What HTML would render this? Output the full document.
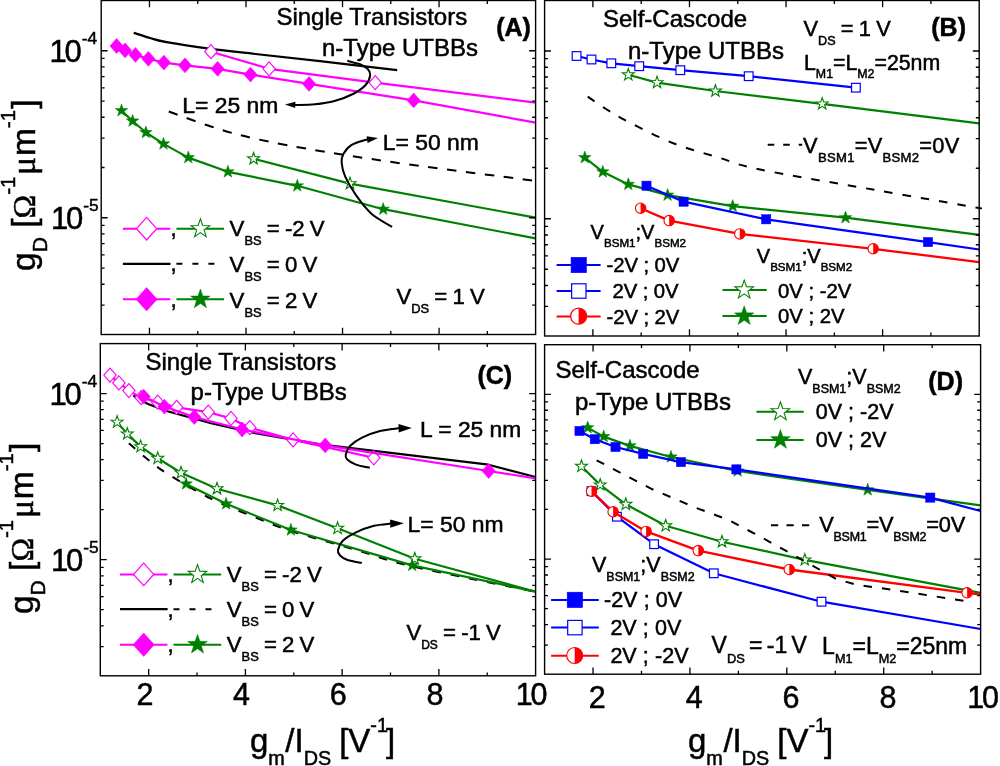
<!DOCTYPE html>
<html><head><meta charset="utf-8"><title>gD vs gm/IDS</title>
<style>html,body{margin:0;padding:0;background:#fff}svg{display:block}text{stroke:#000;stroke-width:.5px}</style>
</head><body>
<svg width="1000" height="766" viewBox="0 0 1000 766" font-family='"Liberation Sans", sans-serif' fill="#000">
<rect width="1000" height="766" fill="#fff"/>
<g id="pA">
<path d="M133.7 32.9C136.42 33.75 144.52 36.45 150 38C155.48 39.55 156.43 40.38 166.6 42.2C176.77 44.02 196.2 46.93 211 48.9C225.8 50.87 237.23 51.97 255.4 54C273.57 56.03 296.37 58.42 320 61.1C343.63 63.78 384.33 68.6 397.2 70.1" fill="none" stroke="#000" stroke-width="2.2" stroke-linejoin="round"/>
<path d="M168.8 111.5C175.83 114 196.57 121.95 211 126.5C225.43 131.05 236.12 134.53 255.4 138.8C274.68 143.07 299.27 147.57 326.7 152.1C354.13 156.63 387.08 161.45 420 166C452.92 170.55 504.93 176.9 524.2 179.4C543.47 181.9 533.7 180.73 535.6 181" fill="none" stroke="#000" stroke-width="2.0" stroke-dasharray="9.5 9.5" stroke-linejoin="round"/>
<path d="M253.6 158.7L350 183.6L535.6 217.7" fill="none" stroke="#008000" stroke-width="2.2" stroke-linejoin="round"/>
<polygon points="253.6,152.4 255.08,156.66 259.59,156.75 256,159.48 257.3,163.8 253.6,161.22 249.9,163.8 251.2,159.48 247.61,156.75 252.12,156.66" fill="#fff" stroke="#008000" stroke-width="1.1" stroke-linejoin="miter"/>
<polygon points="350,177.3 351.48,181.56 355.99,181.65 352.4,184.38 353.7,188.7 350,186.12 346.3,188.7 347.6,184.38 344.01,181.65 348.52,181.56" fill="#fff" stroke="#008000" stroke-width="1.1" stroke-linejoin="miter"/>
<path d="M121.5 110.6L132.6 121L145.9 132.5L163.5 143.9L188.3 157.6L227.9 171.8L297.3 185.8L383.2 209.2L535.6 238.4" fill="none" stroke="#008000" stroke-width="2.2" stroke-linejoin="round"/>
<polygon points="121.5,104 123.05,108.46 127.78,108.56 124.01,111.42 125.38,115.94 121.5,113.24 117.62,115.94 118.99,111.42 115.22,108.56 119.95,108.46" fill="#008000" stroke="#008000" stroke-width="0.5" stroke-linejoin="miter"/>
<polygon points="132.6,114.4 134.15,118.86 138.88,118.96 135.11,121.82 136.48,126.34 132.6,123.64 128.72,126.34 130.09,121.82 126.32,118.96 131.05,118.86" fill="#008000" stroke="#008000" stroke-width="0.5" stroke-linejoin="miter"/>
<polygon points="145.9,125.9 147.45,130.36 152.18,130.46 148.41,133.32 149.78,137.84 145.9,135.14 142.02,137.84 143.39,133.32 139.62,130.46 144.35,130.36" fill="#008000" stroke="#008000" stroke-width="0.5" stroke-linejoin="miter"/>
<polygon points="163.5,137.3 165.05,141.76 169.78,141.86 166.01,144.72 167.38,149.24 163.5,146.54 159.62,149.24 160.99,144.72 157.22,141.86 161.95,141.76" fill="#008000" stroke="#008000" stroke-width="0.5" stroke-linejoin="miter"/>
<polygon points="188.3,151 189.85,155.46 194.58,155.56 190.81,158.42 192.18,162.94 188.3,160.24 184.42,162.94 185.79,158.42 182.02,155.56 186.75,155.46" fill="#008000" stroke="#008000" stroke-width="0.5" stroke-linejoin="miter"/>
<polygon points="227.9,165.2 229.45,169.66 234.18,169.76 230.41,172.62 231.78,177.14 227.9,174.44 224.02,177.14 225.39,172.62 221.62,169.76 226.35,169.66" fill="#008000" stroke="#008000" stroke-width="0.5" stroke-linejoin="miter"/>
<polygon points="297.3,179.2 298.85,183.66 303.58,183.76 299.81,186.62 301.18,191.14 297.3,188.44 293.42,191.14 294.79,186.62 291.02,183.76 295.75,183.66" fill="#008000" stroke="#008000" stroke-width="0.5" stroke-linejoin="miter"/>
<polygon points="383.2,202.6 384.75,207.06 389.48,207.16 385.71,210.02 387.08,214.54 383.2,211.84 379.32,214.54 380.69,210.02 376.92,207.16 381.65,207.06" fill="#008000" stroke="#008000" stroke-width="0.5" stroke-linejoin="miter"/>
<path d="M211 51.7L269.1 68.8L375.2 82.6L535.6 102.6" fill="none" stroke="#ff00ff" stroke-width="2.2" stroke-linejoin="round"/>
<path d="M204.8 51.7L211 44.7L217.2 51.7L211 58.7Z" fill="#fff" stroke="#ff00ff" stroke-width="1.1"/>
<path d="M262.9 68.8L269.1 61.8L275.3 68.8L269.1 75.8Z" fill="#fff" stroke="#ff00ff" stroke-width="1.1"/>
<path d="M369 82.6L375.2 75.6L381.4 82.6L375.2 89.6Z" fill="#fff" stroke="#ff00ff" stroke-width="1.1"/>
<path d="M116.6 46L125.1 50.4L135.5 54.9L148.4 58.8L163.9 62.6L185 65.3L217.6 68.8L250.5 74.6L309.1 83.9L413.7 100.4L535.6 122.6" fill="none" stroke="#ff00ff" stroke-width="2.2" stroke-linejoin="round"/>
<path d="M110 46L116.6 38.6L123.2 46L116.6 53.4Z" fill="#ff00ff" stroke="#ff00ff" stroke-width="0.6"/>
<path d="M118.5 50.4L125.1 43L131.7 50.4L125.1 57.8Z" fill="#ff00ff" stroke="#ff00ff" stroke-width="0.6"/>
<path d="M128.9 54.9L135.5 47.5L142.1 54.9L135.5 62.3Z" fill="#ff00ff" stroke="#ff00ff" stroke-width="0.6"/>
<path d="M141.8 58.8L148.4 51.4L155 58.8L148.4 66.2Z" fill="#ff00ff" stroke="#ff00ff" stroke-width="0.6"/>
<path d="M157.3 62.6L163.9 55.2L170.5 62.6L163.9 70Z" fill="#ff00ff" stroke="#ff00ff" stroke-width="0.6"/>
<path d="M178.4 65.3L185 57.9L191.6 65.3L185 72.7Z" fill="#ff00ff" stroke="#ff00ff" stroke-width="0.6"/>
<path d="M211 68.8L217.6 61.4L224.2 68.8L217.6 76.2Z" fill="#ff00ff" stroke="#ff00ff" stroke-width="0.6"/>
<path d="M243.9 74.6L250.5 67.2L257.1 74.6L250.5 82Z" fill="#ff00ff" stroke="#ff00ff" stroke-width="0.6"/>
<path d="M302.5 83.9L309.1 76.5L315.7 83.9L309.1 91.3Z" fill="#ff00ff" stroke="#ff00ff" stroke-width="0.6"/>
<path d="M407.1 100.4L413.7 93L420.3 100.4L413.7 107.8Z" fill="#ff00ff" stroke="#ff00ff" stroke-width="0.6"/>
<path d="M347.3 60.8C349.42 61.38 356.63 62.97 360 64.3C363.37 65.63 365.8 67.05 367.5 68.8C369.2 70.55 370.45 72.18 370.2 74.8C369.95 77.42 368.7 81.38 366 84.5C363.3 87.62 359.25 90.75 354 93.5C348.75 96.25 341 99.2 334.5 101C328 102.8 321.42 103.63 315 104.3C308.58 104.97 299.63 104.91 296 105C292.37 105.09 293.69 104.87 293.23 104.85" fill="none" stroke="#000" stroke-width="2.0" stroke-linecap="butt"/>
<path d="M285 104.4L295.45 101.87L295.12 108.06Z" fill="#000"/>
<path d="M392.1 226.8C388.7 224.67 377.72 219.27 371.7 214C365.68 208.73 360.43 201.47 356 195.2C351.57 188.93 347.5 181.88 345.1 176.4C342.7 170.92 341.87 166.08 341.6 162.3C341.33 158.52 341.88 156.57 343.5 153.7C345.12 150.83 347.55 147.42 351.3 145.1C355.05 142.78 363 140.77 366 139.8C369 138.83 368.75 139.39 369.3 139.31" fill="none" stroke="#000" stroke-width="2.0" stroke-linecap="butt"/>
<path d="M378 138L367.61 142.9L366.63 136.37Z" fill="#000"/>
</g>
<g id="pB">
<path d="M587.7 96.6C590.75 98.67 599.15 104.75 606 109C612.85 113.25 617.6 116.4 628.8 122.1C640 127.8 658.4 137.35 673.2 143.2C688 149.05 703.13 152.82 717.6 157.2C732.07 161.58 733.7 164.03 760 169.5C786.3 174.97 840.25 183.82 875.4 190C910.55 196.18 953.6 203.6 970.9 206.6C988.2 209.6 977.82 207.77 979.2 208" fill="none" stroke="#000" stroke-width="2.0" stroke-dasharray="8.5 10" stroke-linejoin="round"/>
<path d="M628.3 74.8L657 82.6L715.4 91L822.2 103.9L979.2 123.4" fill="none" stroke="#008000" stroke-width="2.2" stroke-linejoin="round"/>
<polygon points="628.3,68.5 629.78,72.76 634.29,72.85 630.7,75.58 632,79.9 628.3,77.32 624.6,79.9 625.9,75.58 622.31,72.85 626.82,72.76" fill="#fff" stroke="#008000" stroke-width="1.1" stroke-linejoin="miter"/>
<polygon points="657,76.3 658.48,80.56 662.99,80.65 659.4,83.38 660.7,87.7 657,85.12 653.3,87.7 654.6,83.38 651.01,80.65 655.52,80.56" fill="#fff" stroke="#008000" stroke-width="1.1" stroke-linejoin="miter"/>
<polygon points="715.4,84.7 716.88,88.96 721.39,89.05 717.8,91.78 719.1,96.1 715.4,93.52 711.7,96.1 713,91.78 709.41,89.05 713.92,88.96" fill="#fff" stroke="#008000" stroke-width="1.1" stroke-linejoin="miter"/>
<polygon points="822.2,97.6 823.68,101.86 828.19,101.95 824.6,104.68 825.9,109 822.2,106.42 818.5,109 819.8,104.68 816.21,101.95 820.72,101.86" fill="#fff" stroke="#008000" stroke-width="1.1" stroke-linejoin="miter"/>
<path d="M576.6 56L591.5 59.5L611.3 63.3L639.2 66.2L680.3 70.2L748.7 76.2L855.9 87.7" fill="none" stroke="#0000ff" stroke-width="2.2" stroke-linejoin="round"/>
<rect x="572.25" y="51.65" width="8.7" height="8.7" fill="#fff" stroke="#0000ff" stroke-width="1.2"/>
<rect x="587.15" y="55.15" width="8.7" height="8.7" fill="#fff" stroke="#0000ff" stroke-width="1.2"/>
<rect x="606.95" y="58.95" width="8.7" height="8.7" fill="#fff" stroke="#0000ff" stroke-width="1.2"/>
<rect x="634.85" y="61.85" width="8.7" height="8.7" fill="#fff" stroke="#0000ff" stroke-width="1.2"/>
<rect x="675.95" y="65.85" width="8.7" height="8.7" fill="#fff" stroke="#0000ff" stroke-width="1.2"/>
<rect x="744.35" y="71.85" width="8.7" height="8.7" fill="#fff" stroke="#0000ff" stroke-width="1.2"/>
<rect x="851.55" y="83.35" width="8.7" height="8.7" fill="#fff" stroke="#0000ff" stroke-width="1.2"/>
<path d="M584.8 157.6L602.8 171.8L628.3 184.4L667.6 195.1L732.7 206.2L845.5 217.7L979.2 234.9" fill="none" stroke="#008000" stroke-width="2.2" stroke-linejoin="round"/>
<polygon points="584.8,151 586.35,155.46 591.08,155.56 587.31,158.42 588.68,162.94 584.8,160.24 580.92,162.94 582.29,158.42 578.52,155.56 583.25,155.46" fill="#008000" stroke="#008000" stroke-width="0.5" stroke-linejoin="miter"/>
<polygon points="602.8,165.2 604.35,169.66 609.08,169.76 605.31,172.62 606.68,177.14 602.8,174.44 598.92,177.14 600.29,172.62 596.52,169.76 601.25,169.66" fill="#008000" stroke="#008000" stroke-width="0.5" stroke-linejoin="miter"/>
<polygon points="628.3,177.8 629.85,182.26 634.58,182.36 630.81,185.22 632.18,189.74 628.3,187.04 624.42,189.74 625.79,185.22 622.02,182.36 626.75,182.26" fill="#008000" stroke="#008000" stroke-width="0.5" stroke-linejoin="miter"/>
<polygon points="667.6,188.5 669.15,192.96 673.88,193.06 670.11,195.92 671.48,200.44 667.6,197.74 663.72,200.44 665.09,195.92 661.32,193.06 666.05,192.96" fill="#008000" stroke="#008000" stroke-width="0.5" stroke-linejoin="miter"/>
<polygon points="732.7,199.6 734.25,204.06 738.98,204.16 735.21,207.02 736.58,211.54 732.7,208.84 728.82,211.54 730.19,207.02 726.42,204.16 731.15,204.06" fill="#008000" stroke="#008000" stroke-width="0.5" stroke-linejoin="miter"/>
<polygon points="845.5,211.1 847.05,215.56 851.78,215.66 848.01,218.52 849.38,223.04 845.5,220.34 841.62,223.04 842.99,218.52 839.22,215.66 843.95,215.56" fill="#008000" stroke="#008000" stroke-width="0.5" stroke-linejoin="miter"/>
<path d="M646.5 185.7L683.6 201.7L766.2 219.3L928 242.1L979.2 249.5" fill="none" stroke="#0000ff" stroke-width="2.2" stroke-linejoin="round"/>
<rect x="641.9" y="181.1" width="9.2" height="9.2" fill="#0000ff" stroke="#0000ff" stroke-width="0.5"/>
<rect x="679" y="197.1" width="9.2" height="9.2" fill="#0000ff" stroke="#0000ff" stroke-width="0.5"/>
<rect x="761.6" y="214.7" width="9.2" height="9.2" fill="#0000ff" stroke="#0000ff" stroke-width="0.5"/>
<rect x="923.4" y="237.5" width="9.2" height="9.2" fill="#0000ff" stroke="#0000ff" stroke-width="0.5"/>
<path d="M640.6 208.2L669.2 220.6L739.8 233.9L873.2 248.8L979.2 262.1" fill="none" stroke="#ff0000" stroke-width="2.3" stroke-linejoin="round"/>
<circle cx="640.6" cy="208.2" r="5.2" fill="#fff" stroke="#ff0000" stroke-width="1.1"/><path d="M640.6 203A5.2 5.2 0 0 1 640.6 213.4Z" fill="#ff0000"/>
<circle cx="669.2" cy="220.6" r="5.2" fill="#fff" stroke="#ff0000" stroke-width="1.1"/><path d="M669.2 215.4A5.2 5.2 0 0 1 669.2 225.8Z" fill="#ff0000"/>
<circle cx="739.8" cy="233.9" r="5.2" fill="#fff" stroke="#ff0000" stroke-width="1.1"/><path d="M739.8 228.7A5.2 5.2 0 0 1 739.8 239.1Z" fill="#ff0000"/>
<circle cx="873.2" cy="248.8" r="5.2" fill="#fff" stroke="#ff0000" stroke-width="1.1"/><path d="M873.2 243.6A5.2 5.2 0 0 1 873.2 254Z" fill="#ff0000"/>
</g>
<g id="pC">
<path d="M128.9 443.2C131.75 445.67 139.72 453 146 458C152.28 463 155.77 466.42 166.6 473.2C177.43 479.98 196.2 491.32 211 498.7C225.8 506.08 242.08 512.12 255.4 517.5C268.72 522.88 274.53 525.72 290.9 531C307.27 536.28 333.42 543.32 353.6 549.2C373.78 555.08 381.67 559.2 412 566.3C442.33 573.4 515 587.55 535.6 591.8" fill="none" stroke="#000" stroke-width="2.0" stroke-dasharray="8.5 10" stroke-linejoin="round"/>
<path d="M133.3 395.5L148 404L166.6 411L211 423.3L255.4 433.2L320 444.3L486.5 464.3L535.6 477" fill="none" stroke="#000" stroke-width="2.2" stroke-linejoin="round"/>
<path d="M117.1 422.1L127.3 433.9L140.6 446.6L157.7 458.3L181 472.8L217 488.7L277.6 505.4L337.6 528.3L414.8 558.8L535.6 591.7" fill="none" stroke="#008000" stroke-width="2.2" stroke-linejoin="round"/>
<polygon points="117.1,415.8 118.58,420.06 123.09,420.15 119.5,422.88 120.8,427.2 117.1,424.62 113.4,427.2 114.7,422.88 111.11,420.15 115.62,420.06" fill="#fff" stroke="#008000" stroke-width="1.1" stroke-linejoin="miter"/>
<polygon points="127.3,427.6 128.78,431.86 133.29,431.95 129.7,434.68 131,439 127.3,436.42 123.6,439 124.9,434.68 121.31,431.95 125.82,431.86" fill="#fff" stroke="#008000" stroke-width="1.1" stroke-linejoin="miter"/>
<polygon points="140.6,440.3 142.08,444.56 146.59,444.65 143,447.38 144.3,451.7 140.6,449.12 136.9,451.7 138.2,447.38 134.61,444.65 139.12,444.56" fill="#fff" stroke="#008000" stroke-width="1.1" stroke-linejoin="miter"/>
<polygon points="157.7,452 159.18,456.26 163.69,456.35 160.1,459.08 161.4,463.4 157.7,460.82 154,463.4 155.3,459.08 151.71,456.35 156.22,456.26" fill="#fff" stroke="#008000" stroke-width="1.1" stroke-linejoin="miter"/>
<polygon points="181,466.5 182.48,470.76 186.99,470.85 183.4,473.58 184.7,477.9 181,475.32 177.3,477.9 178.6,473.58 175.01,470.85 179.52,470.76" fill="#fff" stroke="#008000" stroke-width="1.1" stroke-linejoin="miter"/>
<polygon points="217,482.4 218.48,486.66 222.99,486.75 219.4,489.48 220.7,493.8 217,491.22 213.3,493.8 214.6,489.48 211.01,486.75 215.52,486.66" fill="#fff" stroke="#008000" stroke-width="1.1" stroke-linejoin="miter"/>
<polygon points="277.6,499.1 279.08,503.36 283.59,503.45 280,506.18 281.3,510.5 277.6,507.92 273.9,510.5 275.2,506.18 271.61,503.45 276.12,503.36" fill="#fff" stroke="#008000" stroke-width="1.1" stroke-linejoin="miter"/>
<polygon points="337.6,522 339.08,526.26 343.59,526.35 340,529.08 341.3,533.4 337.6,530.82 333.9,533.4 335.2,529.08 331.61,526.35 336.12,526.26" fill="#fff" stroke="#008000" stroke-width="1.1" stroke-linejoin="miter"/>
<polygon points="414.8,552.5 416.28,556.76 420.79,556.85 417.2,559.58 418.5,563.9 414.8,561.32 411.1,563.9 412.4,559.58 408.81,556.85 413.32,556.76" fill="#fff" stroke="#008000" stroke-width="1.1" stroke-linejoin="miter"/>
<path d="M186.1 483.9L226.1 503.8L290.9 530L412.2 565.4L535.6 591.7" fill="none" stroke="#008000" stroke-width="2.2" stroke-linejoin="round"/>
<polygon points="186.1,477.3 187.65,481.76 192.38,481.86 188.61,484.72 189.98,489.24 186.1,486.54 182.22,489.24 183.59,484.72 179.82,481.86 184.55,481.76" fill="#008000" stroke="#008000" stroke-width="0.5" stroke-linejoin="miter"/>
<polygon points="226.1,497.2 227.65,501.66 232.38,501.76 228.61,504.62 229.98,509.14 226.1,506.44 222.22,509.14 223.59,504.62 219.82,501.76 224.55,501.66" fill="#008000" stroke="#008000" stroke-width="0.5" stroke-linejoin="miter"/>
<polygon points="290.9,523.4 292.45,527.86 297.18,527.96 293.41,530.82 294.78,535.34 290.9,532.64 287.02,535.34 288.39,530.82 284.62,527.96 289.35,527.86" fill="#008000" stroke="#008000" stroke-width="0.5" stroke-linejoin="miter"/>
<polygon points="412.2,558.8 413.75,563.26 418.48,563.36 414.71,566.22 416.08,570.74 412.2,568.04 408.32,570.74 409.69,566.22 405.92,563.36 410.65,563.26" fill="#008000" stroke="#008000" stroke-width="0.5" stroke-linejoin="miter"/>
<path d="M110 375.1L118.9 382.9L128.9 390.6L141.1 397.7L157.7 402.2L176.6 407.3L208.3 412.2L231 418.4L249.8 427.7L293.1 439.9L373.8 457.8" fill="none" stroke="#ff00ff" stroke-width="2.2" stroke-linejoin="round"/>
<path d="M103.8 375.1L110 368.1L116.2 375.1L110 382.1Z" fill="#fff" stroke="#ff00ff" stroke-width="1.1"/>
<path d="M112.7 382.9L118.9 375.9L125.1 382.9L118.9 389.9Z" fill="#fff" stroke="#ff00ff" stroke-width="1.1"/>
<path d="M122.7 390.6L128.9 383.6L135.1 390.6L128.9 397.6Z" fill="#fff" stroke="#ff00ff" stroke-width="1.1"/>
<path d="M134.9 397.7L141.1 390.7L147.3 397.7L141.1 404.7Z" fill="#fff" stroke="#ff00ff" stroke-width="1.1"/>
<path d="M151.5 402.2L157.7 395.2L163.9 402.2L157.7 409.2Z" fill="#fff" stroke="#ff00ff" stroke-width="1.1"/>
<path d="M170.4 407.3L176.6 400.3L182.8 407.3L176.6 414.3Z" fill="#fff" stroke="#ff00ff" stroke-width="1.1"/>
<path d="M202.1 412.2L208.3 405.2L214.5 412.2L208.3 419.2Z" fill="#fff" stroke="#ff00ff" stroke-width="1.1"/>
<path d="M224.8 418.4L231 411.4L237.2 418.4L231 425.4Z" fill="#fff" stroke="#ff00ff" stroke-width="1.1"/>
<path d="M243.6 427.7L249.8 420.7L256 427.7L249.8 434.7Z" fill="#fff" stroke="#ff00ff" stroke-width="1.1"/>
<path d="M286.9 439.9L293.1 432.9L299.3 439.9L293.1 446.9Z" fill="#fff" stroke="#ff00ff" stroke-width="1.1"/>
<path d="M367.6 457.8L373.8 450.8L380 457.8L373.8 464.8Z" fill="#fff" stroke="#ff00ff" stroke-width="1.1"/>
<path d="M143.7 396.6L164.4 406.6L194.3 417L242.1 429.5L325.2 445.4L488.7 471L535.6 478.3" fill="none" stroke="#ff00ff" stroke-width="2.2" stroke-linejoin="round"/>
<path d="M137.1 396.6L143.7 389.2L150.3 396.6L143.7 404Z" fill="#ff00ff" stroke="#ff00ff" stroke-width="0.6"/>
<path d="M157.8 406.6L164.4 399.2L171 406.6L164.4 414Z" fill="#ff00ff" stroke="#ff00ff" stroke-width="0.6"/>
<path d="M187.7 417L194.3 409.6L200.9 417L194.3 424.4Z" fill="#ff00ff" stroke="#ff00ff" stroke-width="0.6"/>
<path d="M235.5 429.5L242.1 422.1L248.7 429.5L242.1 436.9Z" fill="#ff00ff" stroke="#ff00ff" stroke-width="0.6"/>
<path d="M318.6 445.4L325.2 438L331.8 445.4L325.2 452.8Z" fill="#ff00ff" stroke="#ff00ff" stroke-width="0.6"/>
<path d="M482.1 471L488.7 463.6L495.3 471L488.7 478.4Z" fill="#ff00ff" stroke="#ff00ff" stroke-width="0.6"/>
<path d="M369.8 467.8C367.5 467.27 359.8 466.03 356 464.6C352.2 463.17 348.7 460.9 347 459.2C345.3 457.5 345.3 456.6 345.8 454.4C346.3 452.2 347.3 448.8 350 446C352.7 443.2 357 440.1 362 437.6C367 435.1 374 432.55 380 431C386 429.45 394.46 428.76 398 428.3C401.54 427.84 400.7 428.24 401.24 428.23" fill="none" stroke="#000" stroke-width="2.0" stroke-linecap="butt"/>
<path d="M411.8 428L398.69 432.49L398.51 424.09Z" fill="#000"/>
<path d="M361.8 563C359.43 562.5 351.27 561.3 347.6 560C343.93 558.7 341.4 556.9 339.8 555.2C338.2 553.5 337.5 552.2 338 549.8C338.5 547.4 339.8 543.7 342.8 540.8C345.8 537.9 350.8 534.9 356 532.4C361.2 529.9 368.2 527.27 374 525.8C379.8 524.33 387.64 523.98 390.8 523.6C393.96 523.22 392.6 523.55 392.97 523.53" fill="none" stroke="#000" stroke-width="2.0" stroke-linecap="butt"/>
<path d="M404 523.2L390.33 527.82L390.08 519.42Z" fill="#000"/>
</g>
<g id="pD">
<path d="M581.5 466.3L600.2 484.9L625.8 504.3L665.7 525.8L722 541.7L804.8 559.9L980.6 592.8" fill="none" stroke="#008000" stroke-width="2.2" stroke-linejoin="round"/>
<polygon points="581.5,460 582.98,464.26 587.49,464.35 583.9,467.08 585.2,471.4 581.5,468.82 577.8,471.4 579.1,467.08 575.51,464.35 580.02,464.26" fill="#fff" stroke="#008000" stroke-width="1.1" stroke-linejoin="miter"/>
<polygon points="600.2,478.6 601.68,482.86 606.19,482.95 602.6,485.68 603.9,490 600.2,487.42 596.5,490 597.8,485.68 594.21,482.95 598.72,482.86" fill="#fff" stroke="#008000" stroke-width="1.1" stroke-linejoin="miter"/>
<polygon points="625.8,498 627.28,502.26 631.79,502.35 628.2,505.08 629.5,509.4 625.8,506.82 622.1,509.4 623.4,505.08 619.81,502.35 624.32,502.26" fill="#fff" stroke="#008000" stroke-width="1.1" stroke-linejoin="miter"/>
<polygon points="665.7,519.5 667.18,523.76 671.69,523.85 668.1,526.58 669.4,530.9 665.7,528.32 662,530.9 663.3,526.58 659.71,523.85 664.22,523.76" fill="#fff" stroke="#008000" stroke-width="1.1" stroke-linejoin="miter"/>
<polygon points="722,535.4 723.48,539.66 727.99,539.75 724.4,542.48 725.7,546.8 722,544.22 718.3,546.8 719.6,542.48 716.01,539.75 720.52,539.66" fill="#fff" stroke="#008000" stroke-width="1.1" stroke-linejoin="miter"/>
<polygon points="804.8,553.6 806.28,557.86 810.79,557.95 807.2,560.68 808.5,565 804.8,562.42 801.1,565 802.4,560.68 798.81,557.95 803.32,557.86" fill="#fff" stroke="#008000" stroke-width="1.1" stroke-linejoin="miter"/>
<path d="M591.5 491.2L616.9 516.7L654.1 544.2L713.8 573.3L821.5 601.7L980.6 629" fill="none" stroke="#0000ff" stroke-width="2.2" stroke-linejoin="round"/>
<rect x="587.15" y="486.85" width="8.7" height="8.7" fill="#fff" stroke="#0000ff" stroke-width="1.2"/>
<rect x="612.55" y="512.35" width="8.7" height="8.7" fill="#fff" stroke="#0000ff" stroke-width="1.2"/>
<rect x="649.75" y="539.85" width="8.7" height="8.7" fill="#fff" stroke="#0000ff" stroke-width="1.2"/>
<rect x="709.45" y="568.95" width="8.7" height="8.7" fill="#fff" stroke="#0000ff" stroke-width="1.2"/>
<rect x="817.15" y="597.35" width="8.7" height="8.7" fill="#fff" stroke="#0000ff" stroke-width="1.2"/>
<path d="M587.7 427.7L603.7 436.6L629.9 445.9L671 457L737.6 471L867.7 489.8L980.6 505.4" fill="none" stroke="#008000" stroke-width="2.2" stroke-linejoin="round"/>
<polygon points="587.7,421.1 589.25,425.56 593.98,425.66 590.21,428.52 591.58,433.04 587.7,430.34 583.82,433.04 585.19,428.52 581.42,425.66 586.15,425.56" fill="#008000" stroke="#008000" stroke-width="0.5" stroke-linejoin="miter"/>
<polygon points="603.7,430 605.25,434.46 609.98,434.56 606.21,437.42 607.58,441.94 603.7,439.24 599.82,441.94 601.19,437.42 597.42,434.56 602.15,434.46" fill="#008000" stroke="#008000" stroke-width="0.5" stroke-linejoin="miter"/>
<polygon points="629.9,439.3 631.45,443.76 636.18,443.86 632.41,446.72 633.78,451.24 629.9,448.54 626.02,451.24 627.39,446.72 623.62,443.86 628.35,443.76" fill="#008000" stroke="#008000" stroke-width="0.5" stroke-linejoin="miter"/>
<polygon points="671,450.4 672.55,454.86 677.28,454.96 673.51,457.82 674.88,462.34 671,459.64 667.12,462.34 668.49,457.82 664.72,454.96 669.45,454.86" fill="#008000" stroke="#008000" stroke-width="0.5" stroke-linejoin="miter"/>
<polygon points="737.6,464.4 739.15,468.86 743.88,468.96 740.11,471.82 741.48,476.34 737.6,473.64 733.72,476.34 735.09,471.82 731.32,468.96 736.05,468.86" fill="#008000" stroke="#008000" stroke-width="0.5" stroke-linejoin="miter"/>
<polygon points="867.7,483.2 869.25,487.66 873.98,487.76 870.21,490.62 871.58,495.14 867.7,492.44 863.82,495.14 865.19,490.62 861.42,487.76 866.15,487.66" fill="#008000" stroke="#008000" stroke-width="0.5" stroke-linejoin="miter"/>
<path d="M579.5 431L594.8 439.2L615.5 447L643.2 453.9L681 462.1L736.4 469.4L930.3 497.6L980.6 511" fill="none" stroke="#0000ff" stroke-width="2.2" stroke-linejoin="round"/>
<rect x="574.9" y="426.4" width="9.2" height="9.2" fill="#0000ff" stroke="#0000ff" stroke-width="0.5"/>
<rect x="590.2" y="434.6" width="9.2" height="9.2" fill="#0000ff" stroke="#0000ff" stroke-width="0.5"/>
<rect x="610.9" y="442.4" width="9.2" height="9.2" fill="#0000ff" stroke="#0000ff" stroke-width="0.5"/>
<rect x="638.6" y="449.3" width="9.2" height="9.2" fill="#0000ff" stroke="#0000ff" stroke-width="0.5"/>
<rect x="676.4" y="457.5" width="9.2" height="9.2" fill="#0000ff" stroke="#0000ff" stroke-width="0.5"/>
<rect x="731.8" y="464.8" width="9.2" height="9.2" fill="#0000ff" stroke="#0000ff" stroke-width="0.5"/>
<rect x="925.7" y="493" width="9.2" height="9.2" fill="#0000ff" stroke="#0000ff" stroke-width="0.5"/>
<path d="M591.5 491.2L613.1 511.8L646.1 531.4L698.3 550.6L789.3 569.5L967.1 592.8L980.6 594.6" fill="none" stroke="#ff0000" stroke-width="2.3" stroke-linejoin="round"/>
<circle cx="591.5" cy="491.2" r="5.2" fill="#fff" stroke="#ff0000" stroke-width="1.1"/><path d="M591.5 486A5.2 5.2 0 0 1 591.5 496.4Z" fill="#ff0000"/>
<circle cx="613.1" cy="511.8" r="5.2" fill="#fff" stroke="#ff0000" stroke-width="1.1"/><path d="M613.1 506.6A5.2 5.2 0 0 1 613.1 517Z" fill="#ff0000"/>
<circle cx="646.1" cy="531.4" r="5.2" fill="#fff" stroke="#ff0000" stroke-width="1.1"/><path d="M646.1 526.2A5.2 5.2 0 0 1 646.1 536.6Z" fill="#ff0000"/>
<circle cx="698.3" cy="550.6" r="5.2" fill="#fff" stroke="#ff0000" stroke-width="1.1"/><path d="M698.3 545.4A5.2 5.2 0 0 1 698.3 555.8Z" fill="#ff0000"/>
<circle cx="789.3" cy="569.5" r="5.2" fill="#fff" stroke="#ff0000" stroke-width="1.1"/><path d="M789.3 564.3A5.2 5.2 0 0 1 789.3 574.7Z" fill="#ff0000"/>
<circle cx="967.1" cy="592.8" r="5.2" fill="#fff" stroke="#ff0000" stroke-width="1.1"/><path d="M967.1 587.6A5.2 5.2 0 0 1 967.1 598Z" fill="#ff0000"/>
<path d="M596.6 460.3L651 488.7L695.4 507.6L728.7 520L760 536.6L804.4 561L836 578.9L856 584.6L893.2 590L968.7 601.5" fill="none" stroke="#000" stroke-width="2.0" stroke-dasharray="8.5 10" stroke-linejoin="round"/>
</g>
<rect x="101.2" y="0.5" width="434.4" height="334" fill="none" stroke="#000" stroke-width="1.4"/>
<path d="M149.47 334.5v-6.8M149.47 0.5v6.8M197.73 334.5v-3.4M197.73 0.5v3.4M246 334.5v-6.8M246 0.5v6.8M294.27 334.5v-3.4M294.27 0.5v3.4M342.53 334.5v-6.8M342.53 0.5v6.8M390.8 334.5v-3.4M390.8 0.5v3.4M439.07 334.5v-6.8M439.07 0.5v6.8M487.33 334.5v-3.4M487.33 0.5v3.4M101.2 305.09h3.4M535.6 305.09h-3.4M101.2 284.23h3.4M535.6 284.23h-3.4M101.2 268.04h3.4M535.6 268.04h-3.4M101.2 254.82h3.4M535.6 254.82h-3.4M101.2 243.64h3.4M535.6 243.64h-3.4M101.2 233.96h3.4M535.6 233.96h-3.4M101.2 225.41h3.4M535.6 225.41h-3.4M101.2 217.77h6.4M535.6 217.77h-6.4M101.2 167.5h3.4M535.6 167.5h-3.4M101.2 138.09h3.4M535.6 138.09h-3.4M101.2 117.23h3.4M535.6 117.23h-3.4M101.2 101.04h3.4M535.6 101.04h-3.4M101.2 87.82h3.4M535.6 87.82h-3.4M101.2 76.64h3.4M535.6 76.64h-3.4M101.2 66.96h3.4M535.6 66.96h-3.4M101.2 58.41h3.4M535.6 58.41h-3.4M101.2 50.77h6.4M535.6 50.77h-6.4" stroke="#000" stroke-width="1.3" fill="none"/>
<rect x="544.6" y="0.5" width="434.6" height="335.5" fill="none" stroke="#000" stroke-width="1.4"/>
<path d="M592.89 336v-6.8M592.89 0.5v6.8M641.18 336v-3.4M641.18 0.5v3.4M689.47 336v-6.8M689.47 0.5v6.8M737.76 336v-3.4M737.76 0.5v3.4M786.04 336v-6.8M786.04 0.5v6.8M834.33 336v-3.4M834.33 0.5v3.4M882.62 336v-6.8M882.62 0.5v6.8M930.91 336v-3.4M930.91 0.5v3.4M544.6 306.46h3.4M979.2 306.46h-3.4M544.6 285.5h3.4M979.2 285.5h-3.4M544.6 269.25h3.4M979.2 269.25h-3.4M544.6 255.96h3.4M979.2 255.96h-3.4M544.6 244.73h3.4M979.2 244.73h-3.4M544.6 235h3.4M979.2 235h-3.4M544.6 226.42h3.4M979.2 226.42h-3.4M544.6 218.75h6.4M979.2 218.75h-6.4M544.6 168.25h3.4M979.2 168.25h-3.4M544.6 138.71h3.4M979.2 138.71h-3.4M544.6 117.75h3.4M979.2 117.75h-3.4M544.6 101.5h3.4M979.2 101.5h-3.4M544.6 88.21h3.4M979.2 88.21h-3.4M544.6 76.98h3.4M979.2 76.98h-3.4M544.6 67.25h3.4M979.2 67.25h-3.4M544.6 58.67h3.4M979.2 58.67h-3.4M544.6 51h6.4M979.2 51h-6.4" stroke="#000" stroke-width="1.3" fill="none"/>
<rect x="100.3" y="343.6" width="435.3" height="332.2" fill="none" stroke="#000" stroke-width="1.4"/>
<path d="M148.67 675.8v-6.8M148.67 343.6v6.8M197.03 675.8v-3.4M197.03 343.6v3.4M245.4 675.8v-6.8M245.4 343.6v6.8M293.77 675.8v-3.4M293.77 343.6v3.4M342.13 675.8v-6.8M342.13 343.6v6.8M390.5 675.8v-3.4M390.5 343.6v3.4M438.87 675.8v-6.8M438.87 343.6v6.8M487.23 675.8v-3.4M487.23 343.6v3.4M100.3 646.55h3.4M535.6 646.55h-3.4M100.3 625.8h3.4M535.6 625.8h-3.4M100.3 609.7h3.4M535.6 609.7h-3.4M100.3 596.55h3.4M535.6 596.55h-3.4M100.3 585.43h3.4M535.6 585.43h-3.4M100.3 575.8h3.4M535.6 575.8h-3.4M100.3 567.3h3.4M535.6 567.3h-3.4M100.3 559.7h6.4M535.6 559.7h-6.4M100.3 509.7h3.4M535.6 509.7h-3.4M100.3 480.45h3.4M535.6 480.45h-3.4M100.3 459.7h3.4M535.6 459.7h-3.4M100.3 443.6h3.4M535.6 443.6h-3.4M100.3 430.45h3.4M535.6 430.45h-3.4M100.3 419.33h3.4M535.6 419.33h-3.4M100.3 409.7h3.4M535.6 409.7h-3.4M100.3 401.2h3.4M535.6 401.2h-3.4M100.3 393.6h6.4M535.6 393.6h-6.4" stroke="#000" stroke-width="1.3" fill="none"/>
<rect x="544.6" y="344.7" width="436" height="329.5" fill="none" stroke="#000" stroke-width="1.4"/>
<path d="M593.04 674.2v-6.8M593.04 344.7v6.8M641.49 674.2v-3.4M641.49 344.7v3.4M689.93 674.2v-6.8M689.93 344.7v6.8M738.38 674.2v-3.4M738.38 344.7v3.4M786.82 674.2v-6.8M786.82 344.7v6.8M835.27 674.2v-3.4M835.27 344.7v3.4M883.71 674.2v-6.8M883.71 344.7v6.8M932.16 674.2v-3.4M932.16 344.7v3.4M544.6 645.19h3.4M980.6 645.19h-3.4M544.6 624.61h3.4M980.6 624.61h-3.4M544.6 608.64h3.4M980.6 608.64h-3.4M544.6 595.59h3.4M980.6 595.59h-3.4M544.6 584.56h3.4M980.6 584.56h-3.4M544.6 575.01h3.4M980.6 575.01h-3.4M544.6 566.58h3.4M980.6 566.58h-3.4M544.6 559.04h6.4M980.6 559.04h-6.4M544.6 509.45h3.4M980.6 509.45h-3.4M544.6 480.44h3.4M980.6 480.44h-3.4M544.6 459.86h3.4M980.6 459.86h-3.4M544.6 443.89h3.4M980.6 443.89h-3.4M544.6 430.84h3.4M980.6 430.84h-3.4M544.6 419.81h3.4M980.6 419.81h-3.4M544.6 410.26h3.4M980.6 410.26h-3.4M544.6 401.83h3.4M980.6 401.83h-3.4M544.6 394.29h6.4M980.6 394.29h-6.4" stroke="#000" stroke-width="1.3" fill="none"/>
<path d="M122.9 228.7H170.3" stroke="#ff00ff" stroke-width="2.0" fill="none"/>
<path d="M176.4 228.7H224.1" stroke="#008000" stroke-width="2.0" fill="none"/>
<path d="M136.5 228.7L146.6 217.4L156.7 228.7L146.6 240Z" fill="#fff" stroke="#ff00ff" stroke-width="1.2"/>
<polygon points="200.4,218.9 202.7,225.53 209.72,225.67 204.13,229.91 206.16,236.63 200.4,232.62 194.64,236.63 196.67,229.91 191.08,225.67 198.1,225.53" fill="#fff" stroke="#008000" stroke-width="1.1" stroke-linejoin="miter"/>
<text id="t1" x="170.5" y="236" font-size="22.2">,</text>
<path d="M122.9 263.8H170.5" stroke="#000" stroke-width="2.2" fill="none"/>
<path d="M176.4 263.8H214.9" stroke="#000" stroke-width="2.0" stroke-dasharray="6 10" fill="none"/>
<text id="t2" x="170.5" y="271.1" font-size="22.2">,</text>
<path d="M122.9 299.3H170.3" stroke="#ff00ff" stroke-width="2.0" fill="none"/>
<path d="M176.4 299.3H224.1" stroke="#008000" stroke-width="2.0" fill="none"/>
<path d="M136 299.3L146.6 287.6L157.2 299.3L146.6 311Z" fill="#ff00ff" stroke="#ff00ff" stroke-width="0.5"/>
<polygon points="200.4,289 202.82,295.97 210.2,296.12 204.32,300.57 206.45,307.63 200.4,303.42 194.35,307.63 196.48,300.57 190.6,296.12 197.98,295.97" fill="#008000" stroke="#008000" stroke-width="0.5" stroke-linejoin="miter"/>
<text id="t3" x="170.5" y="306.6" font-size="22.2">,</text>
<text id="t4" x="229.6" y="236.2" font-size="22.2" word-spacing="-1">V<tspan dy="9.1" font-size="12.88">BS</tspan><tspan dy="-9.1"> = -2 V</tspan></text>
<text id="t5" x="229.6" y="271.7" font-size="22.2" word-spacing="-1">V<tspan dy="9.1" font-size="12.88">BS</tspan><tspan dy="-9.1"> = 0 V</tspan></text>
<text id="t6" x="229.6" y="307.6" font-size="22.2" word-spacing="-1">V<tspan dy="9.1" font-size="12.88">BS</tspan><tspan dy="-9.1"> = 2 V</tspan></text>
<path d="M120 574.4H167.4" stroke="#ff00ff" stroke-width="2.0" fill="none"/>
<path d="M173.5 574.4H221.2" stroke="#008000" stroke-width="2.0" fill="none"/>
<path d="M133.6 574.4L143.7 563.1L153.8 574.4L143.7 585.7Z" fill="#fff" stroke="#ff00ff" stroke-width="1.2"/>
<polygon points="197.5,564.6 199.8,571.23 206.82,571.37 201.23,575.61 203.26,582.33 197.5,578.32 191.74,582.33 193.77,575.61 188.18,571.37 195.2,571.23" fill="#fff" stroke="#008000" stroke-width="1.1" stroke-linejoin="miter"/>
<text id="t7" x="167.6" y="581.7" font-size="22.2">,</text>
<path d="M120 609.2H167.6" stroke="#000" stroke-width="2.2" fill="none"/>
<path d="M173.5 609.2H212" stroke="#000" stroke-width="2.0" stroke-dasharray="6 10" fill="none"/>
<text id="t8" x="167.6" y="616.5" font-size="22.2">,</text>
<path d="M120 644.7H167.4" stroke="#ff00ff" stroke-width="2.0" fill="none"/>
<path d="M173.5 644.7H221.2" stroke="#008000" stroke-width="2.0" fill="none"/>
<path d="M133.1 644.7L143.7 633L154.3 644.7L143.7 656.4Z" fill="#ff00ff" stroke="#ff00ff" stroke-width="0.5"/>
<polygon points="197.5,634.4 199.92,641.37 207.3,641.52 201.42,645.97 203.55,653.03 197.5,648.82 191.45,653.03 193.58,645.97 187.7,641.52 195.08,641.37" fill="#008000" stroke="#008000" stroke-width="0.5" stroke-linejoin="miter"/>
<text id="t9" x="167.6" y="652" font-size="22.2">,</text>
<text id="t10" x="226.8" y="581.5" font-size="22.2" word-spacing="-1">V<tspan dy="9.1" font-size="12.88">BS</tspan><tspan dy="-9.1"> = -2 V</tspan></text>
<text id="t11" x="226.8" y="617" font-size="22.2" word-spacing="-1">V<tspan dy="9.1" font-size="12.88">BS</tspan><tspan dy="-9.1"> = 0 V</tspan></text>
<text id="t12" x="226.8" y="652" font-size="22.2" word-spacing="-1">V<tspan dy="9.1" font-size="12.88">BS</tspan><tspan dy="-9.1"> = 2 V</tspan></text>
<path d="M556.6 265H600.6" stroke="#0000ff" stroke-width="2.0" fill="none"/>
<rect x="571.05" y="257.25" width="15.5" height="15.5" fill="#0000ff" stroke="#0000ff" stroke-width="0.5"/>
<path d="M556.6 291H600.6" stroke="#0000ff" stroke-width="2.0" fill="none"/>
<rect x="571.6" y="283.8" width="14.4" height="14.4" fill="#fff" stroke="#0000ff" stroke-width="1.2"/>
<path d="M556.6 316.5H600.6" stroke="#ff0000" stroke-width="2.0" fill="none"/>
<circle cx="578.6" cy="316.2" r="8" fill="#fff" stroke="#ff0000" stroke-width="1.2"/><path d="M578.6 308.2A8 8 0 0 1 578.6 324.2Z" fill="#ff0000"/>
<path d="M551.1 599.9H598.8" stroke="#0000ff" stroke-width="2.0" fill="none"/>
<rect x="567.15" y="592.15" width="15.5" height="15.5" fill="#0000ff" stroke="#0000ff" stroke-width="0.5"/>
<path d="M551.1 627.6H598.8" stroke="#0000ff" stroke-width="2.0" fill="none"/>
<rect x="567.7" y="620.4" width="14.4" height="14.4" fill="#fff" stroke="#0000ff" stroke-width="1.2"/>
<path d="M551.1 655.8H598.8" stroke="#ff0000" stroke-width="2.0" fill="none"/>
<circle cx="574.7" cy="655.5" r="8" fill="#fff" stroke="#ff0000" stroke-width="1.2"/><path d="M574.7 647.5A8 8 0 0 1 574.7 663.5Z" fill="#ff0000"/>
<path d="M722.5 289.9H766.7" stroke="#008000" stroke-width="2.0" fill="none"/>
<polygon points="744.2,280.1 746.5,286.73 753.52,286.87 747.93,291.11 749.96,297.83 744.2,293.82 738.44,297.83 740.47,291.11 734.88,286.87 741.9,286.73" fill="#fff" stroke="#008000" stroke-width="1.1" stroke-linejoin="miter"/>
<path d="M722.5 316.1H766.7" stroke="#008000" stroke-width="2.0" fill="none"/>
<polygon points="744.2,305.8 746.62,312.77 754,312.92 748.12,317.37 750.25,324.43 744.2,320.22 738.15,324.43 740.28,317.37 734.4,312.92 741.78,312.77" fill="#008000" stroke="#008000" stroke-width="0.5" stroke-linejoin="miter"/>
<path d="M756.4 411.7H803.7" stroke="#008000" stroke-width="2.0" fill="none"/>
<polygon points="780.4,401.9 782.7,408.53 789.72,408.67 784.13,412.91 786.16,419.63 780.4,415.62 774.64,419.63 776.67,412.91 771.08,408.67 778.1,408.53" fill="#fff" stroke="#008000" stroke-width="1.1" stroke-linejoin="miter"/>
<path d="M756.4 439.9H803.7" stroke="#008000" stroke-width="2.0" fill="none"/>
<polygon points="780.4,429.6 782.82,436.57 790.2,436.72 784.32,441.17 786.45,448.23 780.4,444.02 774.35,448.23 776.48,441.17 770.6,436.72 777.98,436.57" fill="#008000" stroke="#008000" stroke-width="0.5" stroke-linejoin="miter"/>
<path d="M767.7 144.8H802.2" stroke="#000" stroke-width="1.9" stroke-dasharray="6.6 8.9" fill="none"/>
<path d="M771 525.2H809.6" stroke="#000" stroke-width="1.9" stroke-dasharray="7.2 8.3" fill="none"/>
<text id="t13" x="276.4" y="25.1" font-size="24">Single Transistors</text>
<text id="t14" x="322" y="56.3" font-size="24">n-Type UTBBs</text>
<text id="t15" x="496.2" y="36.2" font-size="25" font-weight="bold" stroke-width="0.25">(A)</text>
<text id="t16" x="182.2" y="113.2" font-size="22.9">L= 25 nm</text>
<text id="t17" x="382.7" y="150.1" font-size="22.9">L= 50 nm</text>
<text id="t18" x="396.4" y="303.9" font-size="22.2" word-spacing="-1">V<tspan dy="9.1" font-size="12.88">DS</tspan><tspan dy="-9.1"> = 1 V</tspan></text>
<text id="t19" x="603" y="27.4" font-size="24">Self-Cascode</text>
<text id="t20" x="628" y="58.6" font-size="24">n-Type UTBBs</text>
<text id="t21" x="803.5" y="36.4" font-size="21.8" word-spacing="-0.8">V<tspan dy="8.94" font-size="12.64">DS</tspan><tspan dy="-8.94"> = 1 V</tspan></text>
<text id="t22" x="804" y="69.6" font-size="21.3">L<tspan dy="8.73" font-size="12.35">M1</tspan><tspan dy="-8.73">=L</tspan><tspan dy="8.73" font-size="12.35">M2</tspan><tspan dy="-8.73">=25nm</tspan></text>
<text id="t23" x="931.3" y="36.4" font-size="25" font-weight="bold" stroke-width="0.25">(B)</text>
<text id="t24" x="803.1" y="152.7" font-size="21.8" textLength="156.2">V<tspan dy="8.94" font-size="13.08">BSM1</tspan><tspan dy="-8.94">=V</tspan><tspan dy="8.94" font-size="13.08">BSM2</tspan><tspan dy="-8.94">=0V</tspan></text>
<text id="t25" x="590.6" y="238.8" font-size="20">V<tspan dy="8.2" font-size="11.6">BSM1</tspan><tspan dy="-8.2">;V</tspan><tspan dy="8.2" font-size="11.6">BSM2</tspan></text>
<text id="t26" x="606.5" y="272.2" font-size="20.3" word-spacing="-0.2">-2V ; 0V</text>
<text id="t27" x="612.4" y="297.8" font-size="20.3" word-spacing="-0.2">2V ; 0V</text>
<text id="t28" x="606.5" y="324" font-size="20.3" word-spacing="-0.2">-2V ; 2V</text>
<text id="t29" x="756.8" y="263.2" font-size="20">V<tspan dy="8.2" font-size="11.6">BSM1</tspan><tspan dy="-8.2">;V</tspan><tspan dy="8.2" font-size="11.6">BSM2</tspan></text>
<text id="t30" x="778" y="297.8" font-size="20.3">0V ; -2V</text>
<text id="t31" x="778" y="323.4" font-size="20.3">0V ; 2V</text>
<text id="t32" x="145.4" y="369.7" font-size="24">Single Transistors</text>
<text id="t33" x="190.6" y="399.6" font-size="24">p-Type UTBBs</text>
<text id="t34" x="477.4" y="384.3" font-size="25" font-weight="bold" stroke-width="0.25">(C)</text>
<text id="t35" x="420.1" y="436.6" font-size="22.8">L = 25 nm</text>
<text id="t36" x="407.5" y="532.2" font-size="22.9">L= 50 nm</text>
<text id="t37" x="406.4" y="640.3" font-size="22.2" word-spacing="-1.0">V<tspan dy="9.1" font-size="11.99">DS</tspan><tspan dy="-9.1"> = -1 V</tspan></text>
<text id="t38" x="555.5" y="377.7" font-size="24">Self-Cascode</text>
<text id="t39" x="575" y="410" font-size="24">p-Type UTBBs</text>
<text id="t40" x="798" y="384.4" font-size="21.5">V<tspan dy="8.81" font-size="12.47">BSM1</tspan><tspan dy="-8.81">;V</tspan><tspan dy="8.81" font-size="12.47">BSM2</tspan></text>
<text id="t41" x="815.8" y="419.3" font-size="21.5">0V ; -2V</text>
<text id="t42" x="815.8" y="447.2" font-size="21.5">0V ; 2V</text>
<text id="t43" x="928.3" y="389.6" font-size="25" font-weight="bold" stroke-width="0.25">(D)</text>
<text id="t44" x="819.2" y="532.4" font-size="21.8" textLength="146">V<tspan dy="8.94" font-size="12.43">BSM1</tspan><tspan dy="-8.94">=V</tspan><tspan dy="8.94" font-size="12.43">BSM2</tspan><tspan dy="-8.94">=0V</tspan></text>
<text id="t45" x="592" y="572.2" font-size="21.5">V<tspan dy="8.81" font-size="12.47">BSM1</tspan><tspan dy="-8.81">;V</tspan><tspan dy="8.81" font-size="12.47">BSM2</tspan></text>
<text id="t46" x="604" y="607.2" font-size="21.5" word-spacing="0.2">-2V ; 0V</text>
<text id="t47" x="610.4" y="634.8" font-size="21.5" word-spacing="0.2">2V ; 0V</text>
<text id="t48" x="610.4" y="663.2" font-size="21.5" word-spacing="0.2">2V ; -2V</text>
<text id="t49" x="711.6" y="653.4" font-size="23" word-spacing="-2.1">V<tspan dy="9.43" font-size="12.88">DS</tspan><tspan dy="-9.43"> = -1 V</tspan></text>
<text id="t50" x="822.1" y="653.8" font-size="23">L<tspan dy="9.43" font-size="12.65">M1</tspan><tspan dy="-9.43">=L</tspan><tspan dy="9.43" font-size="12.65">M2</tspan><tspan dy="-9.43">=25nm</tspan></text>
<text id="t51" x="144.87" y="704.8" font-size="30.5" text-anchor="middle">2</text>
<text id="t52" x="597.24" y="707.7" font-size="30.5" text-anchor="middle">2</text>
<text id="t53" x="241.6" y="704.8" font-size="30.5" text-anchor="middle">4</text>
<text id="t54" x="694.13" y="707.7" font-size="30.5" text-anchor="middle">4</text>
<text id="t55" x="338.33" y="704.8" font-size="30.5" text-anchor="middle">6</text>
<text id="t56" x="791.02" y="707.7" font-size="30.5" text-anchor="middle">6</text>
<text id="t57" x="435.07" y="704.8" font-size="30.5" text-anchor="middle">8</text>
<text id="t58" x="887.91" y="707.7" font-size="30.5" text-anchor="middle">8</text>
<text id="t59" x="515.8" y="704.8" font-size="30.5">1<tspan dx="-2.2">0</tspan></text>
<text id="t60" x="967.3" y="707.7" font-size="30.5">1<tspan dx="-2.2">0</tspan></text>
<text id="t61" x="49.6" y="62.27" font-size="31">1<tspan dx="-2.3">0</tspan><tspan dy="-18.29" font-size="17.36">-4</tspan></text>
<text id="t62" x="51" y="229.27" font-size="31">1<tspan dx="-2.3">0</tspan><tspan dy="-18.29" font-size="17.36">-5</tspan></text>
<text id="t63" x="49.6" y="405.1" font-size="31">1<tspan dx="-2.3">0</tspan><tspan dy="-18.29" font-size="17.36">-4</tspan></text>
<text id="t64" x="51" y="571.2" font-size="31">1<tspan dx="-2.3">0</tspan><tspan dy="-18.29" font-size="17.36">-5</tspan></text>
<text id="t65" x="249.9" y="751.5" font-size="33">g<tspan dy="13.53" font-size="19.8">m</tspan><tspan dy="-13.53" dx="0.6">/I</tspan><tspan dy="13.53" font-size="19.8">DS</tspan><tspan dy="-13.53" dx="-1.2"> [V</tspan><tspan dy="-19.47" font-size="19.8">-1</tspan><tspan dy="19.47" dx="-2">]</tspan></text>
<text id="t66" x="688" y="751.5" font-size="33">g<tspan dy="13.53" font-size="19.8">m</tspan><tspan dy="-13.53" dx="0.6">/I</tspan><tspan dy="13.53" font-size="19.8">DS</tspan><tspan dy="-13.53" dx="-1.2"> [V</tspan><tspan dy="-19.47" font-size="19.8">-1</tspan><tspan dy="19.47" dx="-2">]</tspan></text>
<g transform="translate(34.8 271) rotate(-90)">
<text id="t67" x="0" y="0" font-size="33.5">g<tspan dy="12" font-size="21">D</tspan><tspan dy="-12" dx="0.1"> [</tspan><tspan font-size="31.8" font-family="&quot;Liberation Serif&quot;, serif">Ω</tspan><tspan dy="-19.77" font-size="20.43">-1</tspan><tspan dy="19.77" dx="-7.6"> </tspan><tspan font-family="&quot;Liberation Serif&quot;, serif">μ</tspan><tspan dx="0.9">m</tspan><tspan dy="-19.77" font-size="20.43">-1</tspan><tspan dy="19.77" dx="1.2">]</tspan></text>
</g>
<g transform="translate(32.7 614.1) rotate(-90)">
<text id="t68" x="0" y="0" font-size="33.5">g<tspan dy="12" font-size="21">D</tspan><tspan dy="-12" dx="0.1"> [</tspan><tspan font-size="31.8" font-family="&quot;Liberation Serif&quot;, serif">Ω</tspan><tspan dy="-19.77" font-size="20.43">-1</tspan><tspan dy="19.77" dx="-7.6"> </tspan><tspan font-family="&quot;Liberation Serif&quot;, serif">μ</tspan><tspan dx="0.9">m</tspan><tspan dy="-19.77" font-size="20.43">-1</tspan><tspan dy="19.77" dx="1.2">]</tspan></text>
</g>
</svg>
</body></html>
